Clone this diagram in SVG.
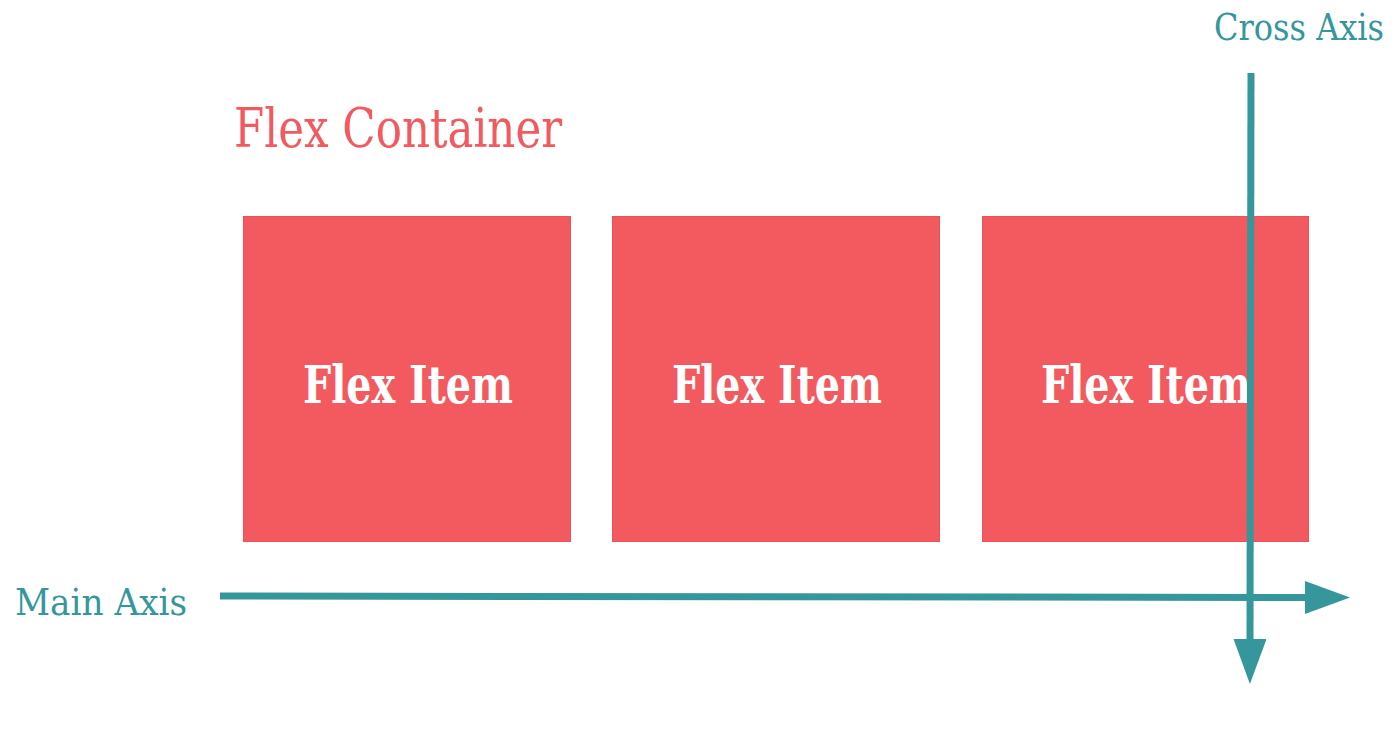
<svg xmlns="http://www.w3.org/2000/svg" width="1400" height="744" viewBox="0 0 1400 744">
<defs>
<style>
.item{fill:#F25A60;stroke:#EE5157;stroke-width:1}
.itxt{font-family:"DejaVu Serif","Liberation Serif",serif;font-weight:bold;font-size:53px;fill:#FFFFFF}
.title{font-family:"DejaVu Serif","Liberation Serif",serif;font-size:54px;fill:#F25A60}
.axis{font-family:"DejaVu Serif","Liberation Serif",serif;font-size:37px;fill:#35979B}
.ax{stroke:#35979B;stroke-width:7;fill:none}
</style>
<marker id="arr" viewBox="0 0 45 33" refX="1" refY="16.5" markerWidth="45" markerHeight="33" markerUnits="userSpaceOnUse" orient="auto">
<path d="M0,0 L45,16.5 L0,33 Z" fill="#35979B"/>
</marker>
</defs>
<rect width="1400" height="744" fill="#FFFFFF"/>
<g id="flex-container">
<text class="title" x="234" y="147" textLength="328" lengthAdjust="spacingAndGlyphs">Flex Container</text>
</g>
<g id="item1">
<rect class="item" x="243.5" y="216.5" width="327" height="325"/>
<text class="itxt" x="303" y="403" textLength="210" lengthAdjust="spacingAndGlyphs">Flex Item</text>
</g>
<g id="item2">
<rect class="item" x="612.5" y="216.5" width="327" height="325"/>
<text class="itxt" x="672" y="403" textLength="210" lengthAdjust="spacingAndGlyphs">Flex Item</text>
</g>
<g id="item3">
<rect class="item" x="982.5" y="216.5" width="326" height="325"/>
<text class="itxt" x="1041" y="403" textLength="210" lengthAdjust="spacingAndGlyphs">Flex Item</text>
</g>
<g id="main-axis-label">
<text class="axis" x="15" y="615" textLength="172" lengthAdjust="spacingAndGlyphs">Main Axis</text>
</g>
<g id="cross-axis-label">
<text class="axis" x="1214" y="40" font-size="35" textLength="170" lengthAdjust="spacingAndGlyphs">Cross Axis</text>
</g>
<g id="connectors">
<line class="ax" x1="220" y1="596" x2="1306" y2="597.5" marker-end="url(#arr)"/>
<line class="ax" x1="1251" y1="73" x2="1250" y2="640" marker-end="url(#arr)"/>
</g>
</svg>
